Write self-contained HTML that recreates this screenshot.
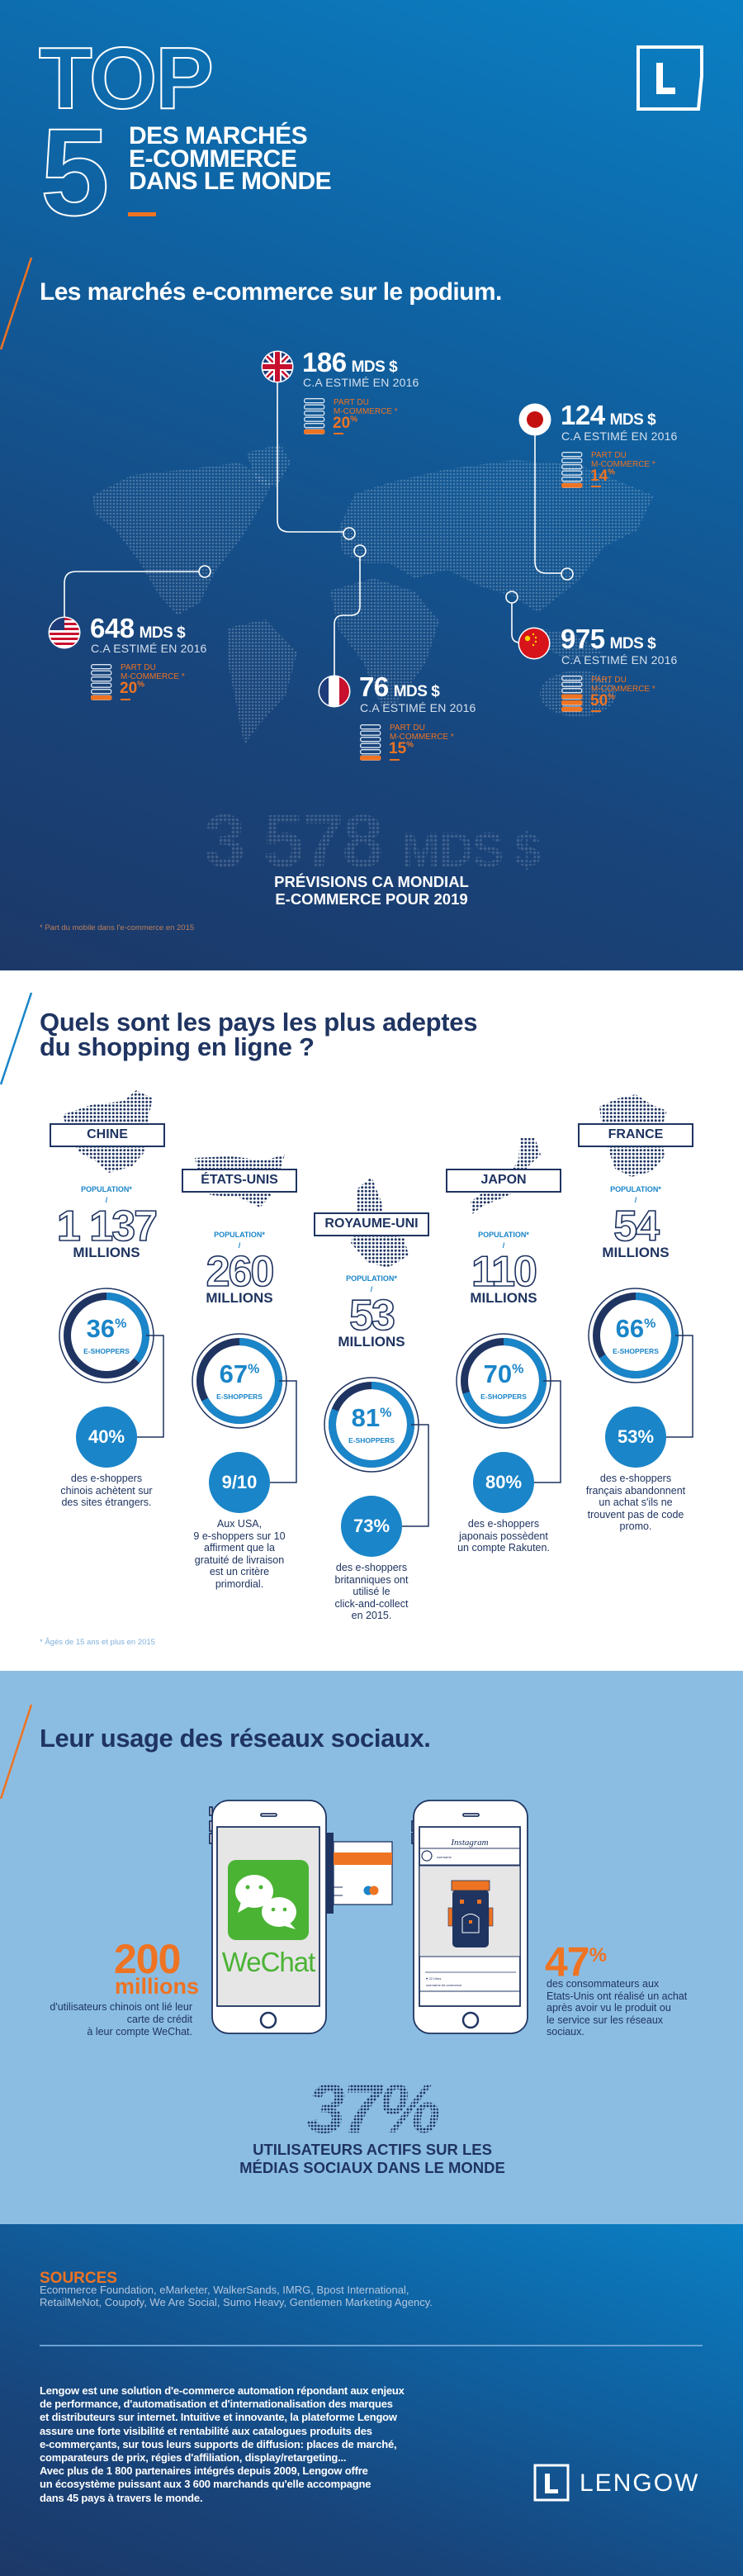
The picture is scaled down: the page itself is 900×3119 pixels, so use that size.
<!DOCTYPE html>
<html><head><meta charset="utf-8">
<style>
*{margin:0;padding:0;box-sizing:border-box}
body{width:900px;height:3119px;position:relative;font-family:"Liberation Sans",sans-serif;background:#fff;overflow:hidden}
.a{position:absolute;white-space:nowrap}
.c{position:absolute;transform:translate(-50%,-50%);white-space:nowrap;text-align:center}
#hdr{position:absolute;left:0;top:0;width:900px;height:1175px;background:linear-gradient(200deg,#0a80c4 0%,#0f62a2 35%,#18457c 70%,#1c3868 100%)}
#sec2{position:absolute;left:0;top:1175px;width:900px;height:848px;background:#fff}
#sec3{position:absolute;left:0;top:2023px;width:900px;height:670px;background:#8bbde3}
#ftr{position:absolute;left:0;top:2693px;width:900px;height:426px;background:linear-gradient(200deg,#0a80c4 0%,#0f62a2 35%,#18457c 70%,#1c3868 100%)}
.num{font-weight:bold;color:#fff;font-size:33px;letter-spacing:-0.5px}
.num small{font-size:19px;margin-left:6px}
.ca{color:#d4e0ee;font-size:14px;letter-spacing:0.2px}
.pd{color:#ee7322;font-size:10px;line-height:11px}
.pp{color:#ee7322;font-size:19px;font-weight:bold}
.pp sup{font-size:10px}
.box{position:absolute;width:140px;height:29px;border:2.5px solid #1f3461;background:#fff;color:#1f3461;font-weight:bold;font-size:16px;text-align:center;line-height:24px}
.pop{color:#1a85c8;font-size:9px;font-weight:bold}
.big{font-size:52px;font-weight:bold;color:#fff;-webkit-text-stroke:1.6px #1f3461;letter-spacing:-2px}
.mil{color:#1f3461;font-size:17px;font-weight:bold}
.pc{color:#1a85c8;font-size:31px;font-weight:bold}
.pc sup{font-size:16px}
.es{color:#1a85c8;font-size:8.5px;font-weight:bold}
.st{color:#fff;font-size:22px;font-weight:bold}
.tx{position:absolute;transform:translateX(-50%);text-align:center;color:#1f3461;font-size:12.5px;line-height:14.5px;white-space:nowrap}
</style></head><body>

<div id="hdr"></div>
<div id="sec2"></div>
<div id="sec3"></div>
<div id="ftr"></div>

<!-- HEADER -->
<div class="a" style="left:47px;top:40px;font-size:106px;font-weight:bold;color:transparent;-webkit-text-stroke:2px #fff;line-height:110px;letter-spacing:-2px">TOP</div>
<div class="a" style="left:49px;top:128px;font-size:150px;font-weight:bold;color:transparent;-webkit-text-stroke:2px #fff;line-height:160px">5</div>
<div class="a" style="left:156px;top:151px;font-size:30px;font-weight:bold;color:#fff;line-height:27.5px;letter-spacing:-0.5px">DES MARCHÉS<br>E-COMMERCE<br>DANS LE MONDE</div>
<div class="a" style="left:155px;top:257px;width:34px;height:5px;background:#ee7322"></div>
<svg class="a" style="left:770px;top:54px" width="84" height="82"><path d="M3 3 H80 V38 L76 78 H3 Z" fill="none" stroke="#fff" stroke-width="4"/><path d="M25 22 H33 V52 H48 V60 H25 Z" fill="#fff"/></svg>

<svg class="a" style="left:0;top:310px" width="40" height="115"><line x1="38" y1="2" x2="1" y2="113" stroke="#ee7322" stroke-width="2.5"/></svg>
<div class="a" style="left:48px;top:337px;font-size:30px;font-weight:bold;color:#fff;letter-spacing:-0.6px">Les marchés e-commerce sur le podium.</div>

<!-- world map -->
<svg class="a" style="left:0;top:0" width="900" height="1175">
<defs>
<pattern id="dp" width="4" height="4" patternUnits="userSpaceOnUse"><circle cx="2" cy="2" r="1.3" fill="rgba(255,255,255,0.22)"/></pattern>
<pattern id="dp2" width="5" height="5" patternUnits="userSpaceOnUse"><circle cx="2.5" cy="2.5" r="1.8" fill="rgba(255,255,255,0.16)"/></pattern>
</defs>
<g fill="url(#dp)">
<path d="M112 600 L160 575 L230 568 L290 560 L330 585 L312 620 L292 652 L262 690 L242 730 L215 745 L192 720 L170 682 L140 642 L115 622Z"/>
<path d="M298 548 L340 538 L352 560 L335 590 L312 585Z"/>
<path d="M276 760 L322 750 L360 790 L346 842 L312 880 L296 902 L286 852 L276 802Z"/>
<path d="M400 715 L452 700 L502 716 L532 752 L516 802 L482 850 L462 856 L440 802 L410 762Z"/>
<path d="M410 640 L430 598 L472 584 L542 568 L622 557 L702 563 L792 600 L772 642 L732 662 L702 702 L652 742 L622 722 L582 710 L542 690 L502 700 L472 682 L442 682 L415 670Z"/>
<ellipse cx="700" cy="840" rx="46" ry="28"/>
<path d="M650 760 L700 770 L730 790 L690 800 L660 785Z"/>
</g>
<text x="450" y="1049" text-anchor="middle" font-family="Liberation Sans" font-weight="bold" font-size="90" fill="url(#dp2)" letter-spacing="-2">3 578 <tspan font-size="58">MDS $</tspan></text>
<g fill="none" stroke="#fff" stroke-width="1.6">
<path d="M336 463 V630 Q336 644 350 644 H416"/><circle cx="423" cy="646" r="7"/>
<path d="M436 674 V734 Q436 745 425 745 H416 Q405 745 405 756 V818"/><circle cx="436" cy="667" r="7"/>
<path d="M241 692 H92 Q78 692 78 706 V747"/><circle cx="248" cy="692" r="7"/>
<path d="M648 527 V680 Q648 694 662 694 H680"/><circle cx="687" cy="695" r="7"/>
<path d="M620 730 V768 Q620 778 630 778"/><circle cx="620" cy="723" r="7"/>
</g>
<!-- flags -->
<defs><clipPath id="cl"><circle r="18"/></clipPath></defs>
<g transform="translate(336,444)"><circle r="19.5" fill="#fff"/><g clip-path="url(#cl)"><rect x="-20" y="-20" width="40" height="40" fill="#1f3c7a"/><path d="M-20 -20 L20 20 M20 -20 L-20 20" stroke="#fff" stroke-width="7"/><path d="M-20 -20 L20 20 M20 -20 L-20 20" stroke="#c8102e" stroke-width="2.5"/><path d="M0 -20 V20 M-20 0 H20" stroke="#fff" stroke-width="10"/><path d="M0 -20 V20 M-20 0 H20" stroke="#c8102e" stroke-width="6"/></g></g>
<g transform="translate(648,508)"><circle r="19.5" fill="#fff"/><circle r="10" fill="#c4100f"/></g>
<g transform="translate(78,766)"><circle r="19.5" fill="#fff"/><g clip-path="url(#cl)"><rect x="-20" y="-20" width="40" height="40" fill="#fff"/><g fill="#c8102e"><rect x="-20" y="-18" width="40" height="3"/><rect x="-20" y="-12" width="40" height="3"/><rect x="-20" y="-6" width="40" height="3"/><rect x="-20" y="0" width="40" height="3"/><rect x="-20" y="6" width="40" height="3"/><rect x="-20" y="12" width="40" height="3"/></g><rect x="-20" y="-20" width="20" height="17" fill="#1f3c7a"/></g></g>
<g transform="translate(405,837)"><circle r="19.5" fill="#fff"/><g clip-path="url(#cl)"><rect x="-20" y="-20" width="13" height="40" fill="#1f3c7a"/><rect x="6" y="-20" width="14" height="40" fill="#c8102e"/></g></g>
<g transform="translate(647,779)"><circle r="19.5" fill="#fff"/><circle r="18" fill="#d7141a"/><g fill="#ffd200"><circle cx="-8" cy="-6" r="3.2"/><circle cx="-1" cy="-11" r="1.2"/><circle cx="2" cy="-7" r="1.2"/><circle cx="2" cy="-2" r="1.2"/><circle cx="-1" cy="2" r="1.2"/></g></g>
<!-- bar icons -->
<g id="bars" fill="none" stroke="#dce6f2" stroke-width="1.3">
</g>
</svg>

<!-- market blocks -->
<div class="a num" style="left:366px;top:420px">186<small>MDS $</small></div>
<div class="a ca" style="left:367px;top:455px">C.A ESTIMÉ EN 2016</div>
<div class="a num" style="left:679px;top:484px">124<small>MDS $</small></div>
<div class="a ca" style="left:680px;top:520px">C.A ESTIMÉ EN 2016</div>
<div class="a num" style="left:109px;top:742px">648<small>MDS $</small></div>
<div class="a ca" style="left:110px;top:777px">C.A ESTIMÉ EN 2016</div>
<div class="a num" style="left:435px;top:813px">76<small>MDS $</small></div>
<div class="a ca" style="left:436px;top:849px">C.A ESTIMÉ EN 2016</div>
<div class="a num" style="left:679px;top:755px">975<small>MDS $</small></div>
<div class="a ca" style="left:680px;top:791px">C.A ESTIMÉ EN 2016</div>

<svg class="a" style="left:0;top:0" width="900" height="1000">
<defs><g id="bi"><g fill="none" stroke="#dce6f2" stroke-width="1.3"><rect x="0.7" y="0.7" width="24" height="5" rx="2"/><rect x="0.7" y="8.2" width="24" height="5" rx="2"/><rect x="0.7" y="15.7" width="24" height="5" rx="2"/><rect x="0.7" y="23.2" width="24" height="5" rx="2"/><rect x="0.7" y="30.7" width="24" height="5" rx="2"/><rect x="0.7" y="38.2" width="24" height="5" rx="2"/></g><rect x="0" y="38" width="25.4" height="5.5" rx="1.5" fill="#ee7322"/></g></defs>
<use href="#bi" x="368" y="482"/>
<use href="#bi" x="680" y="547"/>
<use href="#bi" x="110" y="804"/>
<use href="#bi" x="436" y="877"/>
<use href="#bi" x="680" y="818"/>
<g fill="#ee7322"><rect x="680" y="848" width="25.4" height="5.5" rx="1.5"/><rect x="680" y="840.5" width="25.4" height="5.5" rx="1.5"/></g>
<g fill="#ee7322"><rect x="404" y="524" width="12" height="2"/><rect x="716" y="588" width="12" height="2"/><rect x="146" y="846" width="12" height="2"/><rect x="472" y="919" width="12" height="2"/><rect x="716" y="860" width="12" height="2"/></g>
</svg>
<div class="a pd" style="left:404px;top:482px">PART DU<br>M-COMMERCE *</div><div class="a pp" style="left:403px;top:502px">20<sup>%</sup></div>
<div class="a pd" style="left:716px;top:546px">PART DU<br>M-COMMERCE *</div><div class="a pp" style="left:715px;top:566px">14<sup>%</sup></div>
<div class="a pd" style="left:146px;top:803px">PART DU<br>M-COMMERCE *</div><div class="a pp" style="left:145px;top:823px">20<sup>%</sup></div>
<div class="a pd" style="left:472px;top:876px">PART DU<br>M-COMMERCE *</div><div class="a pp" style="left:471px;top:896px">15<sup>%</sup></div>
<div class="a pd" style="left:716px;top:818px">PART DU<br>M-COMMERCE *</div><div class="a pp" style="left:715px;top:838px">50<sup>%</sup></div>

<div class="c" style="left:450px;top:1078px;color:#fff;font-weight:bold;font-size:18.5px;line-height:21px">PRÉVISIONS CA MONDIAL<br>E-COMMERCE POUR 2019</div>
<div class="a" style="left:48px;top:1118px;color:#e0915a;font-size:9.5px;opacity:.8">* Part du mobile dans l'e-commerce en 2015</div>

<!-- SECTION 2 -->
<svg class="a" style="left:0;top:1200px" width="40" height="115"><line x1="38" y1="2" x2="1" y2="113" stroke="#1a85c8" stroke-width="2.5"/></svg>
<div class="a" style="left:48px;top:1223px;font-size:31px;font-weight:bold;color:#1f3461;line-height:30px;letter-spacing:-0.3px">Quels sont les pays les plus adeptes<br>du shopping en ligne ?</div>

<svg class="a" style="left:0;top:1175px" width="900" height="848">
<defs><pattern id="nd" width="4.5" height="4.5" patternUnits="userSpaceOnUse"><circle cx="2.25" cy="2.25" r="1.5" fill="#1f3461"/></pattern></defs>
<g fill="url(#nd)" transform="translate(0,-1175)">
<path d="M75 1350 L110 1338 L150 1333 L165 1320 L185 1330 L180 1352 L175 1395 L160 1412 L132 1420 L115 1405 L95 1395Z"/>
<path d="M236 1402 L280 1400 L320 1405 L345 1398 L338 1420 L330 1445 L315 1462 L290 1450 L255 1447 L242 1430Z"/>
<path d="M432 1440 L450 1425 L462 1455 L465 1490 L490 1500 L495 1520 L470 1535 L445 1528 L425 1505 L432 1480Z"/>
<path d="M630 1378 L648 1378 L655 1398 L640 1412 L630 1440 L610 1450 L585 1460 L572 1470 L570 1455 L590 1440 L615 1425 L628 1405Z"/>
<path d="M726 1340 L748 1330 L770 1325 L790 1338 L808 1345 L800 1370 L805 1400 L790 1418 L765 1425 L745 1415 L738 1395 L730 1370Z"/>
</g>
</svg>

<!-- columns -->
<div class="box" style="left:60px;top:1360px">CHINE</div>
<div class="box" style="left:220px;top:1415px">ÉTATS-UNIS</div>
<div class="box" style="left:380px;top:1468px">ROYAUME-UNI</div>
<div class="box" style="left:540px;top:1415px">JAPON</div>
<div class="box" style="left:700px;top:1360px">FRANCE</div>

<div class="c pop" style="left:129px;top:1440px">POPULATION*</div><div class="c pop" style="left:129px;top:1453px">/</div>
<div class="c pop" style="left:290px;top:1495px">POPULATION*</div><div class="c pop" style="left:290px;top:1508px">/</div>
<div class="c pop" style="left:450px;top:1548px">POPULATION*</div><div class="c pop" style="left:450px;top:1561px">/</div>
<div class="c pop" style="left:610px;top:1495px">POPULATION*</div><div class="c pop" style="left:610px;top:1508px">/</div>
<div class="c pop" style="left:770px;top:1440px">POPULATION*</div><div class="c pop" style="left:770px;top:1453px">/</div>

<div class="c big" style="left:129px;top:1485px">1 137</div><div class="c mil" style="left:129px;top:1517px">MILLIONS</div>
<div class="c big" style="left:290px;top:1540px">260</div><div class="c mil" style="left:290px;top:1572px">MILLIONS</div>
<div class="c big" style="left:450px;top:1593px">53</div><div class="c mil" style="left:450px;top:1625px">MILLIONS</div>
<div class="c big" style="left:610px;top:1540px">110</div><div class="c mil" style="left:610px;top:1572px">MILLIONS</div>
<div class="c big" style="left:770px;top:1485px">54</div><div class="c mil" style="left:770px;top:1517px">MILLIONS</div>

<svg class="a" style="left:0;top:0" width="900" height="2023">
<g fill="none">
<g transform="translate(129,1617)"><circle r="57" stroke="#1f3461" stroke-width="1.5" fill="#fff"/><circle r="47.5" stroke="#1f3461" stroke-width="9"/><circle r="47.5" stroke="#1a85c8" stroke-width="9" stroke-dasharray="107.4 400" transform="rotate(-90)"/><path d="M48 0 H69 V123 H37" stroke="#1f3461" stroke-width="1.5"/><circle cy="123" r="37" fill="#1a85c8"/></g>
<g transform="translate(290,1672)"><circle r="57" stroke="#1f3461" stroke-width="1.5" fill="#fff"/><circle r="47.5" stroke="#1f3461" stroke-width="9"/><circle r="47.5" stroke="#1a85c8" stroke-width="9" stroke-dasharray="200 400" transform="rotate(-90)"/><path d="M48 0 H69 V123 H37" stroke="#1f3461" stroke-width="1.5"/><circle cy="123" r="37" fill="#1a85c8"/></g>
<g transform="translate(450,1725)"><circle r="57" stroke="#1f3461" stroke-width="1.5" fill="#fff"/><circle r="47.5" stroke="#1f3461" stroke-width="9"/><circle r="47.5" stroke="#1a85c8" stroke-width="9" stroke-dasharray="241.7 400" transform="rotate(-90)"/><path d="M48 0 H69 V123 H37" stroke="#1f3461" stroke-width="1.5"/><circle cy="123" r="37" fill="#1a85c8"/></g>
<g transform="translate(610,1672)"><circle r="57" stroke="#1f3461" stroke-width="1.5" fill="#fff"/><circle r="47.5" stroke="#1f3461" stroke-width="9"/><circle r="47.5" stroke="#1a85c8" stroke-width="9" stroke-dasharray="208.9 400" transform="rotate(-90)"/><path d="M48 0 H69 V123 H37" stroke="#1f3461" stroke-width="1.5"/><circle cy="123" r="37" fill="#1a85c8"/></g>
<g transform="translate(770,1617)"><circle r="57" stroke="#1f3461" stroke-width="1.5" fill="#fff"/><circle r="47.5" stroke="#1f3461" stroke-width="9"/><circle r="47.5" stroke="#1a85c8" stroke-width="9" stroke-dasharray="197 400" transform="rotate(-90)"/><path d="M48 0 H69 V123 H37" stroke="#1f3461" stroke-width="1.5"/><circle cy="123" r="37" fill="#1a85c8"/></g>
</g></svg>

<div class="c pc" style="left:129px;top:1609px">36<sup>%</sup></div><div class="c es" style="left:129px;top:1636px">E-SHOPPERS</div>
<div class="c pc" style="left:290px;top:1664px">67<sup>%</sup></div><div class="c es" style="left:290px;top:1691px">E-SHOPPERS</div>
<div class="c pc" style="left:450px;top:1717px">81<sup>%</sup></div><div class="c es" style="left:450px;top:1744px">E-SHOPPERS</div>
<div class="c pc" style="left:610px;top:1664px">70<sup>%</sup></div><div class="c es" style="left:610px;top:1691px">E-SHOPPERS</div>
<div class="c pc" style="left:770px;top:1609px">66<sup>%</sup></div><div class="c es" style="left:770px;top:1636px">E-SHOPPERS</div>

<div class="c st" style="left:129px;top:1740px">40%</div>
<div class="c st" style="left:290px;top:1795px">9/10</div>
<div class="c st" style="left:450px;top:1848px">73%</div>
<div class="c st" style="left:610px;top:1795px">80%</div>
<div class="c st" style="left:770px;top:1740px">53%</div>

<div class="tx" style="left:129px;top:1783px">des e-shoppers<br>chinois achètent sur<br>des sites étrangers.</div>
<div class="tx" style="left:290px;top:1838px">Aux USA,<br>9 e-shoppers sur 10<br>affirment que la<br>gratuité de livraison<br>est un critère<br>primordial.</div>
<div class="tx" style="left:450px;top:1891px">des e-shoppers<br>britanniques ont<br>utilisé le<br>click-and-collect<br>en 2015.</div>
<div class="tx" style="left:610px;top:1838px">des e-shoppers<br>japonais possèdent<br>un compte Rakuten.</div>
<div class="tx" style="left:770px;top:1783px">des e-shoppers<br>français abandonnent<br>un achat s'ils ne<br>trouvent pas de code<br>promo.</div>
<div class="a" style="left:48px;top:1983px;color:#7fb0da;font-size:9.5px">* Âgés de 15 ans et plus en 2015</div>

<!-- SECTION 3 -->
<svg class="a" style="left:0;top:2062px" width="40" height="118"><line x1="38" y1="2" x2="1" y2="116" stroke="#ee7322" stroke-width="2.5"/></svg>
<div class="a" style="left:48px;top:2087px;font-size:31px;font-weight:bold;color:#1f3461;letter-spacing:-0.4px">Leur usage des réseaux sociaux.</div>

<svg class="a" style="left:0;top:0" width="900" height="2693">
<defs><pattern id="nd2" width="4" height="4" patternUnits="userSpaceOnUse"><circle cx="2" cy="2" r="1.4" fill="#1f3461"/></pattern></defs>
<!-- phone 1 -->
<g stroke="#1f3461" stroke-width="1.8">
<rect x="254" y="2188" width="3" height="10" fill="#fff"/><rect x="254" y="2205" width="3" height="12" fill="#fff"/><rect x="254" y="2220" width="3" height="12" fill="#fff"/>
<rect x="257" y="2180" width="138" height="282" rx="20" fill="#fff"/>
<rect x="263" y="2212" width="124" height="217" fill="#e6e6e6"/>
<rect x="316" y="2196" width="19" height="3" rx="1.5" fill="#fff"/>
<circle cx="325" cy="2446" r="9" fill="#fff" stroke-width="2.5"/>
</g>
<rect x="276" y="2252" width="98" height="97" rx="10" fill="#4bb334"/>
<g fill="#fff"><ellipse cx="308" cy="2290" rx="23" ry="20"/><path d="M292 2303 L288 2316 L302 2308Z"/><ellipse cx="338" cy="2315" rx="21" ry="18"/><path d="M350 2327 L358 2336 L345 2332Z"/></g>
<g fill="#4bb334"><circle cx="300" cy="2285" r="2.5"/><circle cx="316" cy="2285" r="2.5"/><circle cx="331" cy="2312" r="2.3"/><circle cx="345" cy="2312" r="2.3"/></g>
<text x="325" y="2387" text-anchor="middle" font-family="Liberation Sans" font-size="33" fill="#4bb334" letter-spacing="-1">WeChat</text>
<!-- card -->
<rect x="395" y="2219" width="9" height="98" fill="#1f3461"/>
<rect x="404" y="2230" width="71" height="76" fill="#fff" stroke="#1f3461" stroke-width="1.3"/>
<rect x="404" y="2243" width="71" height="15" fill="#ee7322"/>
<circle cx="446" cy="2289" r="5.5" fill="#1a85c8"/><circle cx="453" cy="2289" r="5.5" fill="#ee7322"/>
<path d="M404 2285 H415 M404 2295 H415" stroke="#1f3461" stroke-width="1"/>
<!-- phone 2 -->
<g stroke="#1f3461" stroke-width="1.8">
<rect x="499" y="2205" width="3" height="12" fill="#fff"/><rect x="499" y="2220" width="3" height="12" fill="#fff"/>
<rect x="501" y="2180" width="138" height="282" rx="20" fill="#fff"/>
<rect x="508" y="2212" width="122" height="217" fill="#fff"/>
<rect x="561" y="2196" width="19" height="3" rx="1.5" fill="#fff"/>
<circle cx="570" cy="2446" r="9" fill="#fff" stroke-width="2.5"/>
<line x1="508" y1="2238" x2="630" y2="2238" stroke-width="1"/>
<line x1="508" y1="2258" x2="630" y2="2258" stroke-width="1"/>
<rect x="508" y="2259" width="122" height="110" fill="#e6e6e6" stroke-width="1"/>
<line x1="508" y1="2411" x2="630" y2="2411" stroke-width="1"/>
<circle cx="517" cy="2247" r="6" fill="#fff" stroke-width="1.2"/>
<line x1="515" y1="2388" x2="625" y2="2388" stroke-width="0.8"/>
</g>
<text x="569" y="2234" text-anchor="middle" font-family="Liberation Serif" font-style="italic" font-size="11" fill="#1f3461">Instagram</text>
<text x="529" y="2250" font-family="Liberation Sans" font-size="4" fill="#1f3461">username</text>
<text x="516" y="2397" font-family="Liberation Sans" font-size="4" fill="#1f3461">♥ 22 Likes</text>
<text x="516" y="2405" font-family="Liberation Sans" font-size="4" fill="#1f3461">username #e-commerce</text>
<!-- backpack -->
<rect x="548" y="2288" width="44" height="70" rx="5" fill="#1f3461"/>
<rect x="543" y="2310" width="5" height="22" fill="#ee7322" stroke="#1f3461" stroke-width="0.6"/>
<rect x="592" y="2310" width="5" height="22" fill="#ee7322" stroke="#1f3461" stroke-width="0.6"/>
<rect x="547" y="2277" width="46" height="12" fill="#ee7322" stroke="#1f3461" stroke-width="0.8"/>
<rect x="557" y="2300" width="5" height="5" fill="#ee7322"/><rect x="578" y="2300" width="5" height="5" fill="#ee7322"/>
<path d="M560 2340 V2322 Q570 2313 580 2322 V2340Z" fill="none" stroke="#fff" stroke-width="1"/>
<rect x="568" y="2325" width="4" height="4" fill="#ee7322"/>
<!-- 37% -->
<text x="451" y="2582" text-anchor="middle" font-family="Liberation Sans" font-weight="bold" font-style="italic" font-size="84" fill="url(#nd2)" letter-spacing="-3">37%</text>
</svg>

<div class="a" style="left:138px;top:2344px;color:#ee7322;font-size:50px;font-weight:bold;letter-spacing:-1px;line-height:56px">200</div>
<div class="a" style="left:139px;top:2390px;color:#ee7322;font-size:27px;font-weight:bold;line-height:30px">millions</div>
<div class="a" style="left:60px;top:2423px;width:173px;text-align:right;color:#1f3461;font-size:12.5px;line-height:15px;white-space:normal">d'utilisateurs chinois ont lié leur carte de crédit<br>à leur compte WeChat.</div>
<div class="a" style="left:660px;top:2340px;color:#ee7322;font-size:50px;font-weight:bold;letter-spacing:-1px;line-height:56px">47<sup style="font-size:24px">%</sup></div>
<div class="a" style="left:662px;top:2395px;color:#1f3461;font-size:12.5px;line-height:14.6px">des consommateurs aux<br>Etats-Unis ont réalisé un achat<br>après avoir vu le produit ou<br>le service sur les réseaux<br>sociaux.</div>
<div class="c" style="left:451px;top:2614px;color:#1f3461;font-weight:bold;font-size:18.5px;line-height:22px">UTILISATEURS ACTIFS SUR LES<br>MÉDIAS SOCIAUX DANS LE MONDE</div>

<!-- FOOTER -->
<div class="a" style="left:48px;top:2748px;color:#ee7322;font-size:19px;font-weight:bold">SOURCES</div>
<div class="a" style="left:48px;top:2765px;color:#b4c6de;font-size:13px;line-height:15px">Ecommerce Foundation, eMarketer, WalkerSands, IMRG, Bpost International,<br>RetailMeNot, Coupofy, We Are Social, Sumo Heavy, Gentlemen Marketing Agency.</div>
<div class="a" style="left:48px;top:2839px;width:803px;height:2px;background:#6aa2d4"></div>
<div class="a" style="left:48px;top:2887px;color:#fff;font-size:13px;font-weight:bold;line-height:16.2px;letter-spacing:-0.2px">Lengow est une solution d'e-commerce automation répondant aux enjeux<br>de performance, d'automatisation et d'internationalisation des marques<br>et distributeurs sur internet. Intuitive et innovante, la plateforme Lengow<br>assure une forte visibilité et rentabilité aux catalogues produits des<br>e-commerçants, sur tous leurs supports de diffusion: places de marché,<br>comparateurs de prix, régies d'affiliation, display/retargeting...<br>Avec plus de 1 800 partenaires intégrés depuis 2009, Lengow offre<br>un écosystème puissant aux 3 600 marchands qu'elle accompagne<br>dans 45 pays à travers le monde.</div>
<svg class="a" style="left:646px;top:2983px" width="46" height="47"><rect x="2" y="2" width="40" height="42" fill="none" stroke="#fff" stroke-width="3"/><path d="M14 12 H20 V31 H30 V36 H14Z" fill="#fff"/></svg>
<div class="a" style="left:702px;top:2990px;color:#fff;font-size:30px;letter-spacing:2px">LENGOW</div>

</body></html>
